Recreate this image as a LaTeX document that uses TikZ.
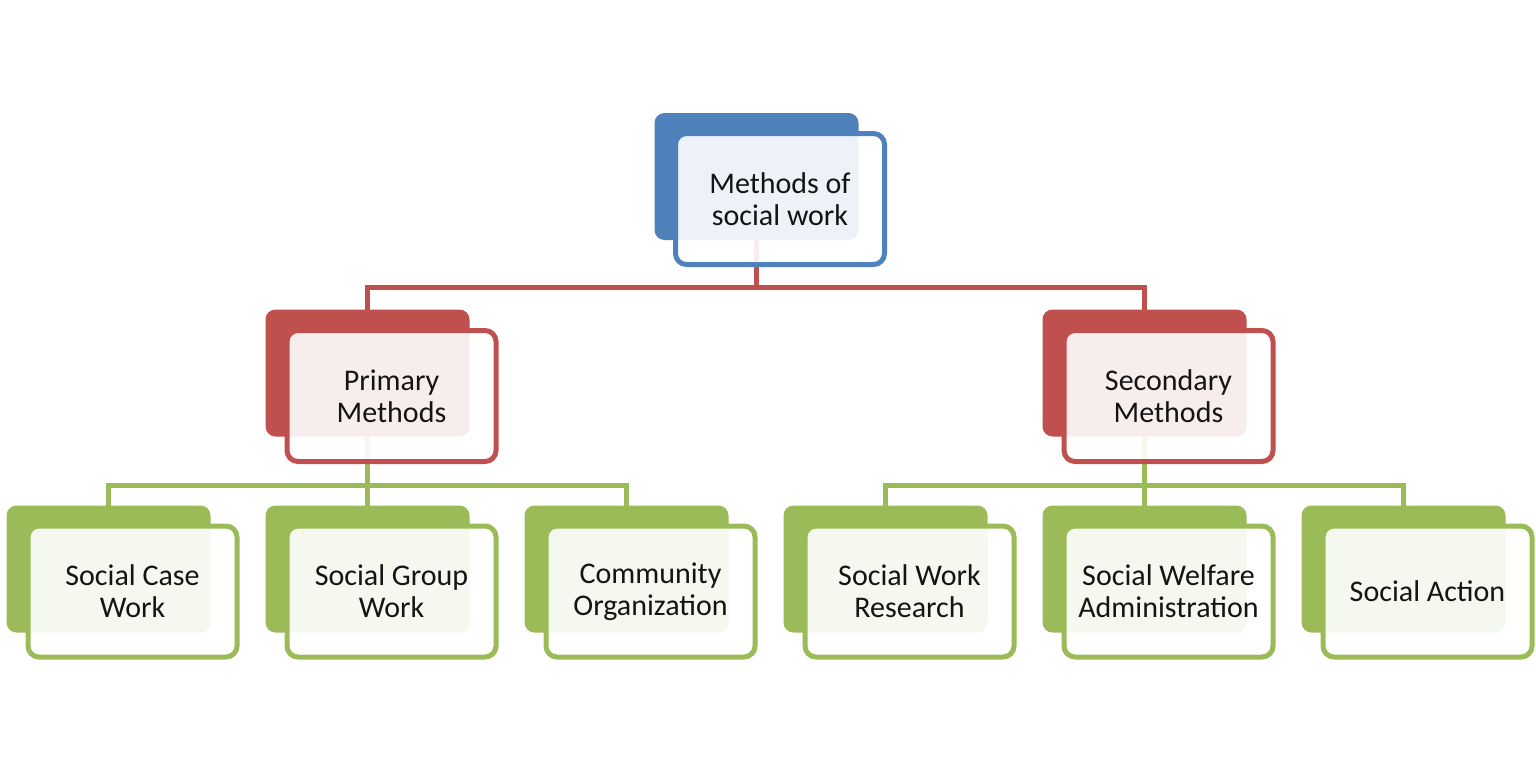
\documentclass[tikz,border=0pt]{standalone}
\usepackage{fontspec}
\setmainfont{Carlito}
\definecolor{cblue}{HTML}{4F81BD}
\definecolor{cred}{HTML}{C0504D}
\definecolor{cgreen}{HTML}{9BBB59}
\begin{document}
\begin{tikzpicture}[x=1pt,y=-1pt,
  backbox/.style={rectangle, rounded corners=10pt, minimum width=204pt, minimum height=127pt, inner sep=0pt, outer sep=0pt, fill=#1},
  frontbox/.style={rectangle, rounded corners=11pt, minimum width=209pt, minimum height=131pt, inner sep=0pt, outer sep=0pt, draw=#1, line width=5pt, fill=white, fill opacity=0.9, text opacity=1, align=center, font=\fontsize{30pt}{32pt}\selectfont, text=black!92},
  conn/.style={draw=#1, line width=5pt}
]
\useasboundingbox (0,0) rectangle (1536,769);
% back boxes
\node[backbox=cblue] (tb) at (756.5,176.5) {};
\node[backbox=cred] (pb) at (367.5,373) {};
\node[backbox=cred] (sb) at (1144.5,373) {};
\node[backbox=cgreen] (b1) at (108.5,569) {};
\node[backbox=cgreen] (b2) at (367.5,569) {};
\node[backbox=cgreen] (b3) at (626.5,569) {};
\node[backbox=cgreen] (b4) at (885.5,569) {};
\node[backbox=cgreen] (b5) at (1144.5,569) {};
\node[backbox=cgreen] (b6) at (1403.5,569) {};
% connectors
\coordinate (j0) at (756.5,287);
\coordinate (j1) at (367.5,485);
\coordinate (j2) at (1144.5,485);
\draw[conn=cred] (tb.south) -- (j0);
\draw[conn=cred] (pb.north) |- (j0) -| (sb.north);
\draw[conn=cgreen] (pb.south) -- (j1);
\draw[conn=cgreen] (b1.north) |- (j1) -| (b3.north);
\draw[conn=cgreen] (j1) -- (b2.north);
\draw[conn=cgreen] (sb.south) -- (j2);
\draw[conn=cgreen] (b4.north) |- (j2) -| (b6.north);
\draw[conn=cgreen] (j2) -- (b5.north);
% front boxes
\node[frontbox=cblue] (tf) at (780,199) {Methods of\\social work};
\node[frontbox=cred] (pf) at (391.5,396) {Primary\\Methods};
\node[frontbox=cred] (sf) at (1168.5,396) {Secondary\\Methods};
\node[frontbox=cgreen] (f1) at (132.5,591.5) {Social Case\\Work};
\node[frontbox=cgreen] (f2) at (391.5,591.5) {Social Group\\Work};
\node[frontbox=cgreen] (f3) at (650.5,591.5) {Community\\Organization};
\node[frontbox=cgreen] (f4) at (909.5,591.5) {Social Work\\Research};
\node[frontbox=cgreen] (f5) at (1168.5,591.5) {Social Welfare\\Administration};
\node[frontbox=cgreen] (f6) at (1427.5,591.5) {Social Action};
\end{tikzpicture}
\end{document}
